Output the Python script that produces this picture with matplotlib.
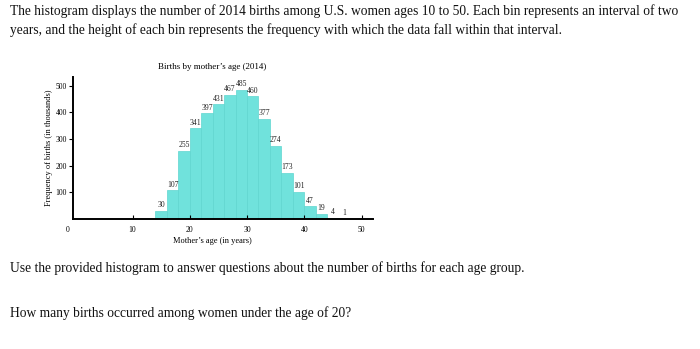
import matplotlib
matplotlib.use("Agg")
import matplotlib.pyplot as plt
import matplotlib.transforms as mtransforms

bin_starts = [14, 16, 18, 20, 22, 24, 26, 28, 30, 32, 34, 36, 38, 40, 42, 44, 46]
births = [30, 107, 255, 341, 397, 431, 467, 485, 460, 377, 274, 173, 101, 47, 19, 4, 1]
x_ticks = [0, 10, 20, 30, 40, 50]
y_ticks = [100, 200, 300, 400, 500]

header = ("The histogram displays the number of 2014 births among U.S. women ages 10 to 50. Each bin represents an interval of two\n"
          "years, and the height of each bin represents the frequency with which the data fall within that interval.")
q1 = "Use the provided histogram to answer questions about the number of births for each age group."
q2 = "How many births occurred among women under the age of 20?"

plt.rcParams['font.family'] = ['Liberation Serif', 'DejaVu Serif']

W, H = 700, 349
fig = plt.figure(figsize=(W / 100, H / 100), dpi=100)
fig.patch.set_facecolor('white')

def fx(px):
    return px / W

def fy(py):
    return 1 - py / H

fig.text(fx(10), fy(4), header, fontsize=9.75, va='top', ha='left', linespacing=1.5, color='#111111')
fig.text(fx(10), fy(268), q1, fontsize=9.75, va='center', ha='left', color='#111111')
fig.text(fx(10), fy(313), q2, fontsize=9.75, va='center', ha='left', color='#111111')

ax = fig.add_axes([fx(73), fy(219), fx(373) - fx(73), fy(77) - fy(219)])
ax.bar(bin_starts, births, width=2, align='edge', color='#70E2DC', edgecolor='#5FD5CF', linewidth=0.5)
for x, v in zip(bin_starts, births):
    ax.text(x + 1, v + 6, str(v), ha='center', va='bottom', fontsize=5.5, color='#222222')

ax.set_xlim(-0.4, 52)
ax.set_ylim(0, 533)
ax.set_xticks(x_ticks)
ax.set_xticklabels([str(t) for t in x_ticks])
ax.set_yticks(y_ticks)
ax.set_yticklabels([str(t) for t in y_ticks])
ax.tick_params(axis='x', direction='in', length=3, width=0.8, labelsize=5.5, pad=5)
ax.tick_params(axis='y', direction='out', length=3, width=0.8, labelsize=5.5, pad=1.5)
ax.xaxis.get_major_ticks()[0].tick1line.set_visible(False)
lbl0 = ax.get_xticklabels()[0]
lbl0.set_transform(lbl0.get_transform() + mtransforms.ScaledTranslation(-8 / 100, 0, fig.dpi_scale_trans))

for s in ['top', 'right']:
    ax.spines[s].set_visible(False)
for s in ['left', 'bottom']:
    ax.spines[s].set_linewidth(1.4)
    ax.spines[s].set_color('black')

cx = (212 - 73) / (373 - 73)
ax.set_title("Births by mother\u2019s age (2014)", fontsize=6.5, pad=6, x=cx)
ax.set_xlabel("Mother\u2019s age (in years)", fontsize=6, labelpad=3)
ax.xaxis.set_label_coords(cx, -0.13)
ax.set_ylabel("Frequency of births (in thousands)", fontsize=6, labelpad=2)

fig.savefig("out.png", dpi=100)
